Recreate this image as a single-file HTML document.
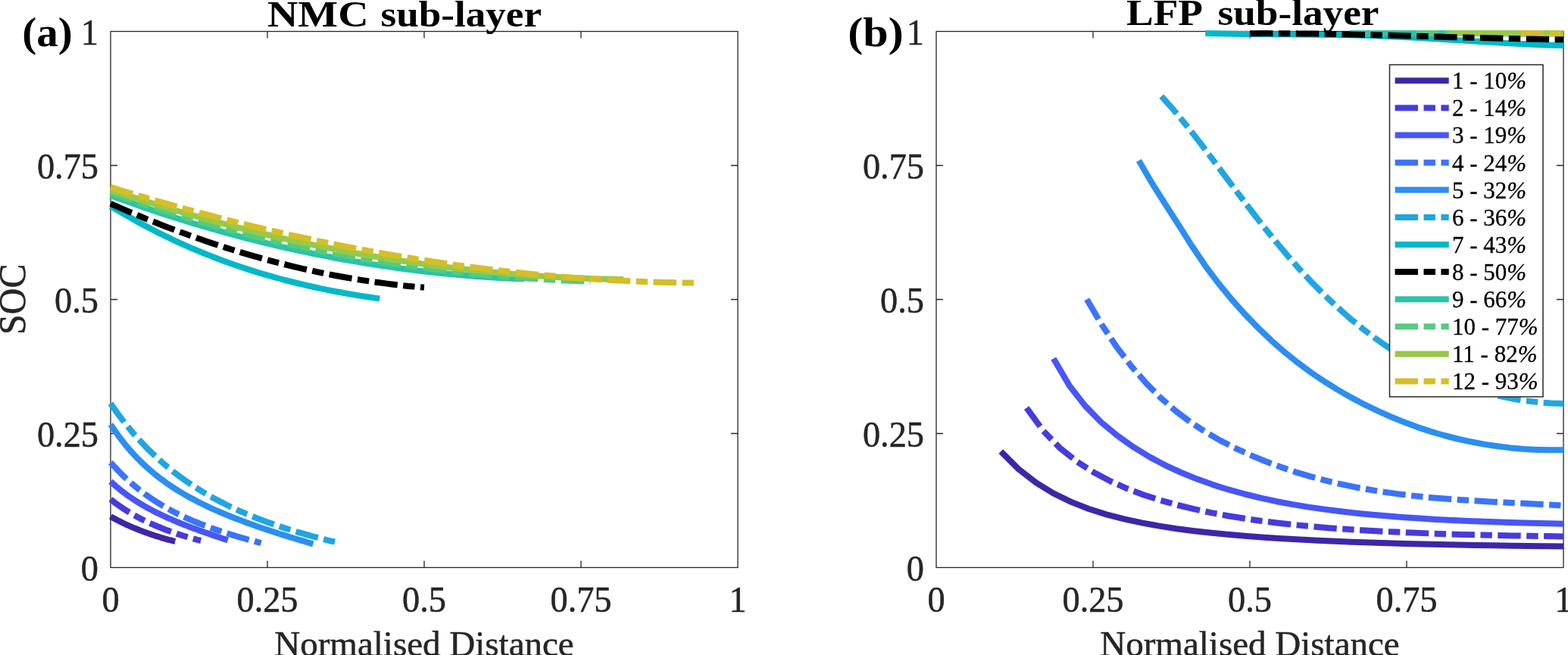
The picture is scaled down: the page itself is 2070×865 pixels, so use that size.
<!DOCTYPE html>
<html><head><meta charset="utf-8"><title>SOC profiles</title>
<style>
html,body{margin:0;padding:0;background:#fff;width:2070px;height:865px;overflow:hidden}
svg{display:block}
.tk{font-family:"Liberation Serif","Times New Roman",serif;font-size:48px;fill:#262626;stroke:#262626;stroke-width:0.5px}
.xl{font-size:47px}
.ti{font-family:"Liberation Serif","Times New Roman",serif;font-size:49.5px;font-weight:bold;fill:#000}
.lab{font-family:"Liberation Serif","Times New Roman",serif;font-size:55px;font-weight:bold;fill:#000}
.lg{font-family:"Liberation Serif","Times New Roman",serif;font-size:31px;fill:#000;stroke:#000;stroke-width:0.3px;stroke-dasharray:none}
</style></head><body>
<svg width="2070" height="865" viewBox="0 0 2070 865">
<rect width="2070" height="865" fill="#fff"/>
<rect x="146.0" y="41.5" width="828.0" height="708.0" fill="none" stroke="#262626" stroke-width="1.3"/>
<path d="M353.0,749.5v-9M353.0,41.5v9M146.0,572.50h9M974.0,572.50h-9M560.0,749.5v-9M560.0,41.5v9M146.0,395.50h9M974.0,395.50h-9M767.0,749.5v-9M767.0,41.5v9M146.0,218.50h9M974.0,218.50h-9" stroke="#262626" stroke-width="1.3" fill="none"/>
<rect x="1236.0" y="41.5" width="828.0" height="708.0" fill="none" stroke="#262626" stroke-width="1.3"/>
<path d="M1443.0,749.5v-9M1443.0,41.5v9M1236.0,572.50h9M2064.0,572.50h-9M1650.0,749.5v-9M1650.0,41.5v9M1236.0,395.50h9M2064.0,395.50h-9M1857.0,749.5v-9M1857.0,41.5v9M1236.0,218.50h9M2064.0,218.50h-9" stroke="#262626" stroke-width="1.3" fill="none"/>
<g fill="none" stroke-width="8" stroke-linecap="butt" stroke-linejoin="round">
<path d="M146.0,682.1 L147.7,683.1 L149.5,684.0 L151.2,685.0 L153.0,685.9 L154.7,686.8 L156.4,687.7 L158.2,688.6 L159.9,689.5 L161.7,690.3 L163.4,691.2 L165.1,692.0 L166.9,692.8 L168.6,693.6 L170.4,694.4 L172.1,695.2 L173.8,695.9 L175.6,696.7 L177.3,697.4 L179.1,698.1 L180.8,698.8 L182.6,699.5 L184.3,700.2 L186.0,700.9 L187.8,701.6 L189.5,702.2 L191.3,702.8 L193.0,703.5 L194.7,704.1 L196.5,704.7 L198.2,705.3 L200.0,705.9 L201.7,706.5 L203.4,707.0 L205.2,707.6 L206.9,708.2 L208.7,708.7 L210.4,709.2 L212.1,709.8 L213.9,710.3 L215.6,710.8 L217.4,711.3 L219.1,711.8 L220.8,712.3 L222.6,712.8 L224.3,713.2 L226.1,713.7 L227.8,714.2 L229.5,714.6 L231.3,715.0" stroke="rgb(62, 38, 168)"/>
<path d="M146.0,659.3 L148.4,661.3 L150.9,663.2 L153.3,665.1 L155.7,666.8 L158.2,668.6 L160.6,670.2 L163.0,671.8 L165.5,673.4 L167.9,674.9 L170.3,676.4 L172.8,677.9 L175.2,679.3 L177.6,680.6 L180.1,682.0 L182.5,683.3 L184.9,684.6 L187.4,685.8 L189.8,687.0 L192.2,688.2 L194.7,689.4 L197.1,690.5 L199.5,691.6 L202.0,692.7 L204.4,693.8 L206.8,694.8 L209.3,695.8 L211.7,696.8 L214.1,697.8 L216.6,698.7 L219.0,699.7 L221.4,700.6 L223.9,701.5 L226.3,702.4 L228.7,703.2 L231.2,704.0 L233.6,704.9 L236.0,705.7 L238.5,706.4 L240.9,707.2 L243.3,708.0 L245.8,708.7 L248.2,709.4 L250.6,710.1 L253.1,710.8 L255.5,711.5 L257.9,712.1 L260.4,712.8 L262.8,713.4 L265.2,714.0" stroke="rgb(70, 59, 221)" stroke-dasharray="30.4 7.5 15.4 7.5"/>
<path d="M146.0,635.8 L149.2,638.7 L152.3,641.5 L155.5,644.2 L158.6,646.8 L161.8,649.2 L165.0,651.6 L168.1,654.0 L171.3,656.2 L174.4,658.3 L177.6,660.4 L180.8,662.5 L183.9,664.4 L187.1,666.3 L190.2,668.1 L193.4,669.9 L196.6,671.7 L199.7,673.3 L202.9,675.0 L206.0,676.6 L209.2,678.2 L212.4,679.7 L215.5,681.2 L218.7,682.6 L221.8,684.1 L225.0,685.4 L228.2,686.8 L231.3,688.2 L234.5,689.5 L237.6,690.8 L240.8,692.1 L244.0,693.3 L247.1,694.5 L250.3,695.8 L253.4,697.0 L256.6,698.1 L259.8,699.3 L262.9,700.5 L266.1,701.6 L269.2,702.7 L272.4,703.8 L275.6,704.9 L278.7,706.0 L281.9,707.1 L285.0,708.2 L288.2,709.3 L291.4,710.3 L294.5,711.4 L297.7,712.4 L300.8,713.4" stroke="rgb(71, 86, 247)"/>
<path d="M146.0,610.6 L150.1,615.2 L154.1,619.6 L158.2,623.8 L162.2,627.9 L166.3,631.7 L170.3,635.4 L174.4,639.0 L178.4,642.4 L182.5,645.7 L186.6,648.9 L190.6,651.9 L194.7,654.8 L198.7,657.7 L202.8,660.4 L206.8,663.0 L210.9,665.5 L214.9,667.9 L219.0,670.3 L223.1,672.5 L227.1,674.7 L231.2,676.8 L235.2,678.9 L239.3,680.8 L243.3,682.8 L247.4,684.6 L251.4,686.4 L255.5,688.2 L259.6,689.8 L263.6,691.5 L267.7,693.1 L271.7,694.6 L275.8,696.1 L279.8,697.6 L283.9,699.0 L287.9,700.4 L292.0,701.8 L296.1,703.1 L300.1,704.4 L304.2,705.7 L308.2,706.9 L312.3,708.2 L316.3,709.4 L320.4,710.5 L324.4,711.7 L328.5,712.8 L332.6,713.9 L336.6,715.0 L340.7,716.0 L344.7,717.1" stroke="rgb(59, 115, 254)" stroke-dasharray="30.4 7.5 15.4 7.5"/>
<path d="M146.0,560.4 L151.5,568.6 L156.9,576.3 L162.4,583.4 L167.8,590.2 L173.3,596.5 L178.7,602.4 L184.2,608.0 L189.7,613.3 L195.1,618.3 L200.6,623.0 L206.0,627.5 L211.5,631.8 L217.0,635.8 L222.4,639.7 L227.9,643.3 L233.3,646.8 L238.8,650.2 L244.2,653.4 L249.7,656.5 L255.2,659.4 L260.6,662.3 L266.1,665.0 L271.5,667.7 L277.0,670.3 L282.5,672.8 L287.9,675.2 L293.4,677.5 L298.8,679.8 L304.3,682.0 L309.7,684.2 L315.2,686.3 L320.7,688.3 L326.1,690.4 L331.6,692.3 L337.0,694.3 L342.5,696.2 L347.9,698.0 L353.4,699.9 L358.9,701.7 L364.3,703.4 L369.8,705.2 L375.2,706.9 L380.7,708.6 L386.2,710.3 L391.6,712.0 L397.1,713.6 L402.5,715.2 L408.0,716.8 L413.4,718.4" stroke="rgb(44, 142, 241)"/>
<path d="M146.0,532.8 L152.1,541.6 L158.1,549.9 L164.2,557.8 L170.3,565.3 L176.3,572.6 L182.4,579.4 L188.5,586.0 L194.5,592.3 L200.6,598.2 L206.7,604.0 L212.7,609.4 L218.8,614.7 L224.9,619.7 L230.9,624.5 L237.0,629.1 L243.1,633.5 L249.1,637.7 L255.2,641.7 L261.3,645.6 L267.3,649.4 L273.4,653.0 L279.5,656.4 L285.5,659.7 L291.6,662.9 L297.7,666.0 L303.7,669.0 L309.8,671.8 L315.9,674.6 L321.9,677.2 L328.0,679.8 L334.1,682.3 L340.1,684.7 L346.2,687.0 L352.3,689.3 L358.3,691.4 L364.4,693.6 L370.5,695.6 L376.5,697.6 L382.6,699.5 L388.7,701.4 L394.7,703.2 L400.8,704.9 L406.9,706.7 L412.9,708.3 L419.0,709.9 L425.1,711.5 L431.1,713.1 L437.2,714.6 L443.3,716.0" stroke="rgb(31, 166, 226)" stroke-dasharray="30.4 7.5 15.4 7.5"/>
<path d="M146.0,272.1 L153.2,276.5 L160.5,280.8 L167.7,285.0 L175.0,289.1 L182.2,293.2 L189.5,297.1 L196.7,300.9 L204.0,304.7 L211.2,308.4 L218.5,311.9 L225.7,315.4 L233.0,318.8 L240.2,322.1 L247.5,325.3 L254.7,328.5 L262.0,331.5 L269.2,334.5 L276.5,337.4 L283.7,340.2 L291.0,343.0 L298.2,345.7 L305.5,348.3 L312.7,350.8 L320.0,353.2 L327.2,355.6 L334.5,357.9 L341.7,360.2 L349.0,362.3 L356.2,364.4 L363.5,366.5 L370.7,368.5 L378.0,370.4 L385.2,372.2 L392.5,374.0 L399.7,375.7 L407.0,377.4 L414.2,379.0 L421.5,380.6 L428.7,382.1 L436.0,383.6 L443.2,385.0 L450.5,386.3 L457.7,387.6 L465.0,388.9 L472.2,390.1 L479.5,391.2 L486.7,392.3 L494.0,393.4 L501.2,394.4" stroke="rgb(1, 184, 201)"/>
<path d="M146.0,258.2 L157.2,262.3 L168.3,266.3 L179.5,270.3 L190.6,274.1 L201.8,277.9 L212.9,281.6 L224.1,285.3 L235.2,288.8 L246.4,292.3 L257.5,295.7 L268.7,299.0 L279.8,302.2 L291.0,305.4 L302.1,308.5 L313.3,311.5 L324.4,314.4 L335.6,317.2 L346.7,320.0 L357.9,322.7 L369.1,325.3 L380.2,327.9 L391.4,330.3 L402.5,332.7 L413.7,335.0 L424.8,337.2 L436.0,339.4 L447.1,341.5 L458.3,343.5 L469.4,345.4 L480.6,347.3 L491.7,349.1 L502.9,350.8 L514.0,352.4 L525.2,354.0 L536.3,355.5 L547.5,356.9 L558.6,358.2 L569.8,359.5 L581.0,360.7 L592.1,361.8 L603.3,362.8 L614.4,363.8 L625.6,364.7 L636.7,365.5 L647.9,366.3 L659.0,367.0 L670.2,367.6 L681.3,368.1 L692.5,368.6" stroke="rgb(43, 195, 168)"/>
<path d="M146.0,254.6 L158.9,259.1 L171.9,263.6 L184.8,268.0 L197.7,272.3 L210.6,276.5 L223.6,280.5 L236.5,284.5 L249.4,288.4 L262.3,292.2 L275.3,295.8 L288.2,299.4 L301.1,302.9 L314.1,306.3 L327.0,309.6 L339.9,312.8 L352.8,315.9 L365.8,319.0 L378.7,321.9 L391.6,324.7 L404.5,327.5 L417.5,330.2 L430.4,332.7 L443.3,335.2 L456.2,337.6 L469.2,340.0 L482.1,342.2 L495.0,344.3 L508.0,346.4 L520.9,348.4 L533.8,350.3 L546.7,352.1 L559.7,353.8 L572.6,355.5 L585.5,357.1 L598.4,358.6 L611.4,360.0 L624.3,361.4 L637.2,362.6 L650.2,363.8 L663.1,364.9 L676.0,366.0 L688.9,367.0 L701.9,367.9 L714.8,368.7 L727.7,369.5 L740.6,370.2 L753.6,370.8 L766.5,371.3 L779.4,371.8" stroke="rgb(84, 204, 124)" stroke-dasharray="30.4 7.5 15.4 7.5"/>
<path d="M146.0,250.9 L159.8,255.5 L173.6,259.9 L187.4,264.3 L201.3,268.6 L215.1,272.8 L228.9,277.0 L242.7,281.0 L256.5,284.9 L270.3,288.8 L284.1,292.6 L298.0,296.2 L311.8,299.8 L325.6,303.3 L339.4,306.7 L353.2,310.0 L367.0,313.3 L380.8,316.4 L394.7,319.4 L408.5,322.4 L422.3,325.2 L436.1,328.0 L449.9,330.7 L463.7,333.3 L477.5,335.8 L491.4,338.2 L505.2,340.5 L519.0,342.8 L532.8,344.9 L546.6,346.9 L560.4,348.9 L574.2,350.8 L588.1,352.6 L601.9,354.2 L615.7,355.8 L629.5,357.3 L643.3,358.8 L657.1,360.1 L670.9,361.3 L684.7,362.5 L698.6,363.5 L712.4,364.5 L726.2,365.4 L740.0,366.2 L753.8,366.9 L767.6,367.5 L781.4,368.0 L795.3,368.4 L809.1,368.7 L822.9,369.0" stroke="rgb(152, 201, 71)"/>
<path d="M146.0,247.2 L161.7,252.0 L177.5,256.7 L193.2,261.4 L209.0,265.9 L224.7,270.4 L240.5,274.8 L256.2,279.0 L272.0,283.2 L287.7,287.3 L303.5,291.4 L319.2,295.3 L335.0,299.1 L350.7,302.9 L366.5,306.5 L382.2,310.1 L398.0,313.5 L413.7,316.9 L429.5,320.2 L445.2,323.4 L461.0,326.5 L476.7,329.5 L492.5,332.4 L508.2,335.2 L524.0,337.9 L539.7,340.5 L555.5,343.1 L571.2,345.5 L587.0,347.8 L602.7,350.1 L618.5,352.2 L634.2,354.2 L650.0,356.2 L665.7,358.0 L681.5,359.7 L697.2,361.4 L713.0,362.9 L728.7,364.3 L744.5,365.7 L760.2,366.9 L776.0,368.0 L791.7,369.1 L807.5,370.0 L823.2,370.8 L839.0,371.5 L854.7,372.2 L870.4,372.7 L886.2,373.1 L901.9,373.4 L917.7,373.6" stroke="rgb(214, 190, 40)" stroke-dasharray="30.4 7.5 15.4 7.5"/>
<path d="M146.0,269.0 L154.4,272.7 L162.9,276.4 L171.3,280.0 L179.8,283.5 L188.2,287.0 L196.7,290.5 L205.1,293.8 L213.6,297.2 L222.0,300.4 L230.5,303.6 L238.9,306.8 L247.4,309.8 L255.8,312.9 L264.3,315.8 L272.7,318.7 L281.2,321.6 L289.6,324.3 L298.1,327.1 L306.5,329.7 L315.0,332.3 L323.4,334.9 L331.9,337.3 L340.3,339.7 L348.8,342.1 L357.2,344.4 L365.7,346.6 L374.1,348.7 L382.6,350.8 L391.0,352.9 L399.5,354.8 L407.9,356.7 L416.4,358.6 L424.8,360.4 L433.3,362.1 L441.7,363.7 L450.2,365.3 L458.6,366.8 L467.1,368.2 L475.5,369.6 L484.0,370.9 L492.4,372.2 L500.9,373.3 L509.3,374.4 L517.8,375.5 L526.2,376.5 L534.7,377.4 L543.1,378.2 L551.6,379.0 L560.0,379.6" stroke="rgb(0, 0, 0)" stroke-dasharray="30.4 7.5 15.4 7.5"/>
<path d="M1321.3,596.1 L1344.5,619.3 L1367.7,637.4 L1390.9,651.7 L1414.1,662.9 L1437.3,672.0 L1460.5,679.4 L1483.8,685.4 L1507.0,690.4 L1530.2,694.6 L1553.4,698.2 L1576.6,701.2 L1599.8,703.8 L1623.0,706.0 L1646.2,708.0 L1669.4,709.7 L1692.6,711.2 L1715.9,712.6 L1739.1,713.7 L1762.3,714.8 L1785.5,715.7 L1808.7,716.5 L1831.9,717.3 L1855.1,718.0 L1878.3,718.5 L1901.5,719.1 L1924.7,719.5 L1948.0,720.0 L1971.2,720.3 L1994.4,720.7 L2017.6,721.0 L2040.8,721.3 L2064.0,721.5" stroke="rgb(62, 38, 168)"/>
<path d="M1355.2,538.7 L1377.4,569.1 L1399.5,591.9 L1421.7,609.6 L1443.8,623.8 L1466.0,635.5 L1488.1,645.3 L1510.3,653.7 L1532.4,660.8 L1554.6,667.0 L1576.7,672.4 L1598.9,677.1 L1621.0,681.2 L1643.2,684.8 L1665.3,688.0 L1687.5,690.7 L1709.6,693.2 L1731.8,695.3 L1753.9,697.2 L1776.1,698.8 L1798.2,700.2 L1820.4,701.5 L1842.5,702.6 L1864.7,703.6 L1886.8,704.4 L1909.0,705.2 L1931.1,705.9 L1953.3,706.4 L1975.4,706.9 L1997.6,707.4 L2019.7,707.8 L2041.9,708.1 L2064.0,708.4" stroke="rgb(70, 59, 221)" stroke-dasharray="30.4 7.5 15.4 7.5"/>
<path d="M1390.8,473.5 L1411.9,509.5 L1432.9,536.4 L1453.9,557.7 L1475.0,575.3 L1496.0,590.2 L1517.1,603.1 L1538.1,614.3 L1559.1,624.0 L1580.2,632.6 L1601.2,640.1 L1622.2,646.7 L1643.3,652.5 L1664.3,657.7 L1685.3,662.2 L1706.4,666.1 L1727.4,669.6 L1748.5,672.6 L1769.5,675.3 L1790.5,677.7 L1811.6,679.8 L1832.6,681.6 L1853.6,683.2 L1874.7,684.6 L1895.7,685.9 L1916.7,687.0 L1937.8,687.9 L1958.8,688.8 L1979.9,689.5 L2000.9,690.2 L2021.9,690.8 L2043.0,691.3 L2064.0,691.7" stroke="rgb(71, 86, 247)"/>
<path d="M1434.7,395.3 L1454.4,428.6 L1474.0,458.0 L1493.7,483.8 L1513.4,506.4 L1533.0,526.1 L1552.7,543.2 L1572.4,558.0 L1592.0,570.8 L1611.7,582.1 L1631.4,592.1 L1651.0,601.1 L1670.7,609.3 L1690.4,616.6 L1710.0,623.3 L1729.7,629.2 L1749.4,634.4 L1769.0,639.1 L1788.7,643.2 L1808.4,646.8 L1828.0,649.9 L1847.7,652.6 L1867.3,654.9 L1887.0,656.9 L1906.7,658.6 L1926.3,660.0 L1946.0,661.3 L1965.7,662.4 L1985.3,663.5 L2005.0,664.4 L2024.7,665.4 L2044.3,666.5 L2064.0,667.6" stroke="rgb(59, 115, 254)" stroke-dasharray="30.4 7.5 15.4 7.5"/>
<path d="M1503.4,212.0 L1521.0,242.2 L1538.5,269.8 L1556.0,297.1 L1573.5,324.8 L1591.0,350.8 L1608.5,374.1 L1626.1,395.5 L1643.6,415.1 L1661.1,433.2 L1678.6,449.9 L1696.1,465.2 L1713.7,479.3 L1731.2,492.2 L1748.7,504.0 L1766.2,514.9 L1783.7,524.9 L1801.2,534.2 L1818.8,542.7 L1836.3,550.5 L1853.8,557.6 L1871.3,564.1 L1888.8,569.9 L1906.3,575.0 L1923.9,579.5 L1941.4,583.3 L1958.9,586.6 L1976.4,589.3 L1993.9,591.4 L2011.4,592.9 L2029.0,593.9 L2046.5,594.3 L2064.0,594.3" stroke="rgb(44, 142, 241)"/>
<path d="M1533.3,127.2 L1549.8,145.7 L1566.4,165.7 L1583.0,186.9 L1599.6,208.9 L1616.2,231.1 L1632.8,253.2 L1649.4,275.0 L1665.9,296.3 L1682.5,316.9 L1699.1,336.8 L1715.7,355.6 L1732.3,373.4 L1748.9,390.1 L1765.5,405.7 L1782.0,420.3 L1798.6,433.9 L1815.2,446.5 L1831.8,458.1 L1848.4,468.8 L1865.0,478.6 L1881.6,487.4 L1898.1,495.5 L1914.7,502.6 L1931.3,509.0 L1947.9,514.6 L1964.5,519.3 L1981.1,523.4 L1997.7,526.7 L2014.2,529.3 L2030.8,531.2 L2047.4,532.5 L2064.0,533.1" stroke="rgb(31, 166, 226)" stroke-dasharray="30.4 7.5 15.4 7.5"/>
<path d="M1591.2,43.9 L1616.1,44.5 L1641.0,44.9 L1665.9,45.2 L1690.7,45.3 L1715.6,45.5 L1740.5,45.7 L1765.4,46.0 L1790.3,46.6 L1815.2,47.3 L1840.0,48.4 L1864.9,49.6 L1889.8,51.0 L1914.7,52.5 L1939.6,54.1 L1964.5,55.6 L1989.3,57.0 L2014.2,58.3 L2039.1,59.4 L2064.0,60.1" stroke="rgb(1, 184, 201)"/>
<path d="M1782.5,43.9 L1797.3,43.9 L1812.1,44.0 L1826.9,44.0 L1841.7,44.0 L1856.6,44.0 L1871.4,44.0 L1886.2,44.1 L1901.0,44.1 L1915.8,44.1 L1930.6,44.1 L1945.5,44.2 L1960.3,44.2 L1975.1,44.2 L1989.9,44.2 L2004.7,44.2 L2019.5,44.3 L2034.4,44.3 L2049.2,44.3 L2064.0,44.3" stroke="rgb(43, 195, 168)"/>
<path d="M1869.4,43.9 L1879.7,43.9 L1889.9,44.0 L1900.1,44.0 L1910.4,44.0 L1920.6,44.0 L1930.9,44.0 L1941.1,44.1 L1951.3,44.1 L1961.6,44.1 L1971.8,44.1 L1982.1,44.2 L1992.3,44.2 L2002.6,44.2 L2012.8,44.2 L2023.0,44.2 L2033.3,44.3 L2043.5,44.3 L2053.8,44.3 L2064.0,44.3" stroke="rgb(84, 204, 124)" stroke-dasharray="30.4 7.5 15.4 7.5"/>
<path d="M1912.9,43.9 L1920.8,43.9 L1928.8,44.0 L1936.7,44.0 L1944.7,44.0 L1952.7,44.0 L1960.6,44.0 L1968.6,44.1 L1976.5,44.1 L1984.5,44.1 L1992.4,44.1 L2000.4,44.2 L2008.3,44.2 L2016.3,44.2 L2024.2,44.2 L2032.2,44.2 L2040.1,44.3 L2048.1,44.3 L2056.0,44.3 L2064.0,44.3" stroke="rgb(152, 201, 71)"/>
<path d="M2007.7,43.9 L2010.7,43.9 L2013.6,44.0 L2016.6,44.0 L2019.5,44.0 L2022.5,44.0 L2025.5,44.0 L2028.4,44.1 L2031.4,44.1 L2034.4,44.1 L2037.3,44.1 L2040.3,44.2 L2043.3,44.2 L2046.2,44.2 L2049.2,44.2 L2052.1,44.2 L2055.1,44.3 L2058.1,44.3 L2061.0,44.3 L2064.0,44.3" stroke="rgb(214, 190, 40)" stroke-dasharray="30.4 7.5 15.4 7.5"/>
<path d="M1650.0,44.2 L1671.8,44.1 L1693.6,44.2 L1715.4,44.4 L1737.2,44.6 L1758.9,45.0 L1780.7,45.4 L1802.5,45.9 L1824.3,46.4 L1846.1,47.0 L1867.9,47.6 L1889.7,48.2 L1911.5,48.9 L1933.3,49.5 L1955.1,50.1 L1976.8,50.6 L1998.6,51.1 L2020.4,51.6 L2042.2,52.0 L2064.0,52.3" stroke="rgb(0, 0, 0)" stroke-dasharray="30.4 7.5 15.4 7.5"/>
</g>
<g class="tk">
<text transform="translate(146.0,807.6) scale(0.965,1)" text-anchor="middle">0</text>
<text transform="translate(130.0,767.3) scale(0.965,1)" text-anchor="end">0</text>
<text transform="translate(353.0,807.6) scale(0.965,1)" text-anchor="middle">0.25</text>
<text transform="translate(130.0,590.3) scale(0.965,1)" text-anchor="end">0.25</text>
<text transform="translate(560.0,807.6) scale(0.965,1)" text-anchor="middle">0.5</text>
<text transform="translate(130.0,413.3) scale(0.965,1)" text-anchor="end">0.5</text>
<text transform="translate(767.0,807.6) scale(0.965,1)" text-anchor="middle">0.75</text>
<text transform="translate(130.0,236.3) scale(0.965,1)" text-anchor="end">0.75</text>
<text transform="translate(974.0,807.6) scale(0.965,1)" text-anchor="middle">1</text>
<text transform="translate(130.0,59.3) scale(0.965,1)" text-anchor="end">1</text>
<text transform="translate(1236.0,807.6) scale(0.965,1)" text-anchor="middle">0</text>
<text transform="translate(1220.0,767.3) scale(0.965,1)" text-anchor="end">0</text>
<text transform="translate(1443.0,807.6) scale(0.965,1)" text-anchor="middle">0.25</text>
<text transform="translate(1220.0,590.3) scale(0.965,1)" text-anchor="end">0.25</text>
<text transform="translate(1650.0,807.6) scale(0.965,1)" text-anchor="middle">0.5</text>
<text transform="translate(1220.0,413.3) scale(0.965,1)" text-anchor="end">0.5</text>
<text transform="translate(1857.0,807.6) scale(0.965,1)" text-anchor="middle">0.75</text>
<text transform="translate(1220.0,236.3) scale(0.965,1)" text-anchor="end">0.75</text>
<text transform="translate(2064.0,807.6) scale(0.965,1)" text-anchor="middle">1</text>
<text transform="translate(1220.0,59.3) scale(0.965,1)" text-anchor="end">1</text>
</g>
<text x="560" y="865.5" class="tk xl" text-anchor="middle">Normalised Distance</text>
<text x="1650" y="865.5" class="tk xl" text-anchor="middle">Normalised Distance</text>
<text class="tk" transform="translate(32.6,395.25) rotate(-90) scale(1,1.06)" text-anchor="middle">SOC</text>
<text x="353" y="35.2" class="ti" textLength="133.5" lengthAdjust="spacingAndGlyphs">NMC</text>
<text x="502.5" y="35.2" class="ti" textLength="212.5" lengthAdjust="spacingAndGlyphs">sub-layer</text>
<text x="1487" y="33.4" class="ti" textLength="101" lengthAdjust="spacingAndGlyphs">LFP</text>
<text x="1607.5" y="33.4" class="ti" textLength="213" lengthAdjust="spacingAndGlyphs">sub-layer</text>
<text x="29.3" y="61" class="lab" textLength="66.5" lengthAdjust="spacingAndGlyphs">(a)</text>
<text x="1119.3" y="61" class="lab" textLength="73.5" lengthAdjust="spacingAndGlyphs">(b)</text>
<g fill="none" stroke-width="8" stroke-linecap="butt">
<rect x="1834.5" y="85.5" width="202.5" height="438.5" fill="#fff" stroke="#262626" stroke-width="1.5"/>
<path d="M1841.6,106.4H1912.7" stroke="rgb(62, 38, 168)"/>
<text x="1917" y="117.2" class="lg">1 - 10<tspan font-style="italic">%</tspan></text>
<path d="M1841.6,142.5H1912.7" stroke="rgb(70, 59, 221)" stroke-dasharray="30.4 7.5 15.4 7.5"/>
<text x="1917" y="153.3" class="lg">2 - 14<tspan font-style="italic">%</tspan></text>
<path d="M1841.6,178.6H1912.7" stroke="rgb(71, 86, 247)"/>
<text x="1917" y="189.4" class="lg">3 - 19<tspan font-style="italic">%</tspan></text>
<path d="M1841.6,214.7H1912.7" stroke="rgb(59, 115, 254)" stroke-dasharray="30.4 7.5 15.4 7.5"/>
<text x="1917" y="225.5" class="lg">4 - 24<tspan font-style="italic">%</tspan></text>
<path d="M1841.6,250.8H1912.7" stroke="rgb(44, 142, 241)"/>
<text x="1917" y="261.6" class="lg">5 - 32<tspan font-style="italic">%</tspan></text>
<path d="M1841.6,286.9H1912.7" stroke="rgb(31, 166, 226)" stroke-dasharray="30.4 7.5 15.4 7.5"/>
<text x="1917" y="297.7" class="lg">6 - 36<tspan font-style="italic">%</tspan></text>
<path d="M1841.6,323.0H1912.7" stroke="rgb(1, 184, 201)"/>
<text x="1917" y="333.8" class="lg">7 - 43<tspan font-style="italic">%</tspan></text>
<path d="M1841.6,359.1H1912.7" stroke="rgb(0, 0, 0)" stroke-dasharray="30.4 7.5 15.4 7.5"/>
<text x="1917" y="369.9" class="lg">8 - 50<tspan font-style="italic">%</tspan></text>
<path d="M1841.6,395.2H1912.7" stroke="rgb(43, 195, 168)"/>
<text x="1917" y="406.0" class="lg">9 - 66<tspan font-style="italic">%</tspan></text>
<path d="M1841.6,431.3H1912.7" stroke="rgb(84, 204, 124)" stroke-dasharray="30.4 7.5 15.4 7.5"/>
<text x="1917" y="442.1" class="lg">10 - 77<tspan font-style="italic">%</tspan></text>
<path d="M1841.6,467.4H1912.7" stroke="rgb(152, 201, 71)"/>
<text x="1917" y="478.2" class="lg">11 - 82<tspan font-style="italic">%</tspan></text>
<path d="M1841.6,503.5H1912.7" stroke="rgb(214, 190, 40)" stroke-dasharray="30.4 7.5 15.4 7.5"/>
<text x="1917" y="514.3" class="lg">12 - 93<tspan font-style="italic">%</tspan></text>
</g>
</svg>
</body></html>
